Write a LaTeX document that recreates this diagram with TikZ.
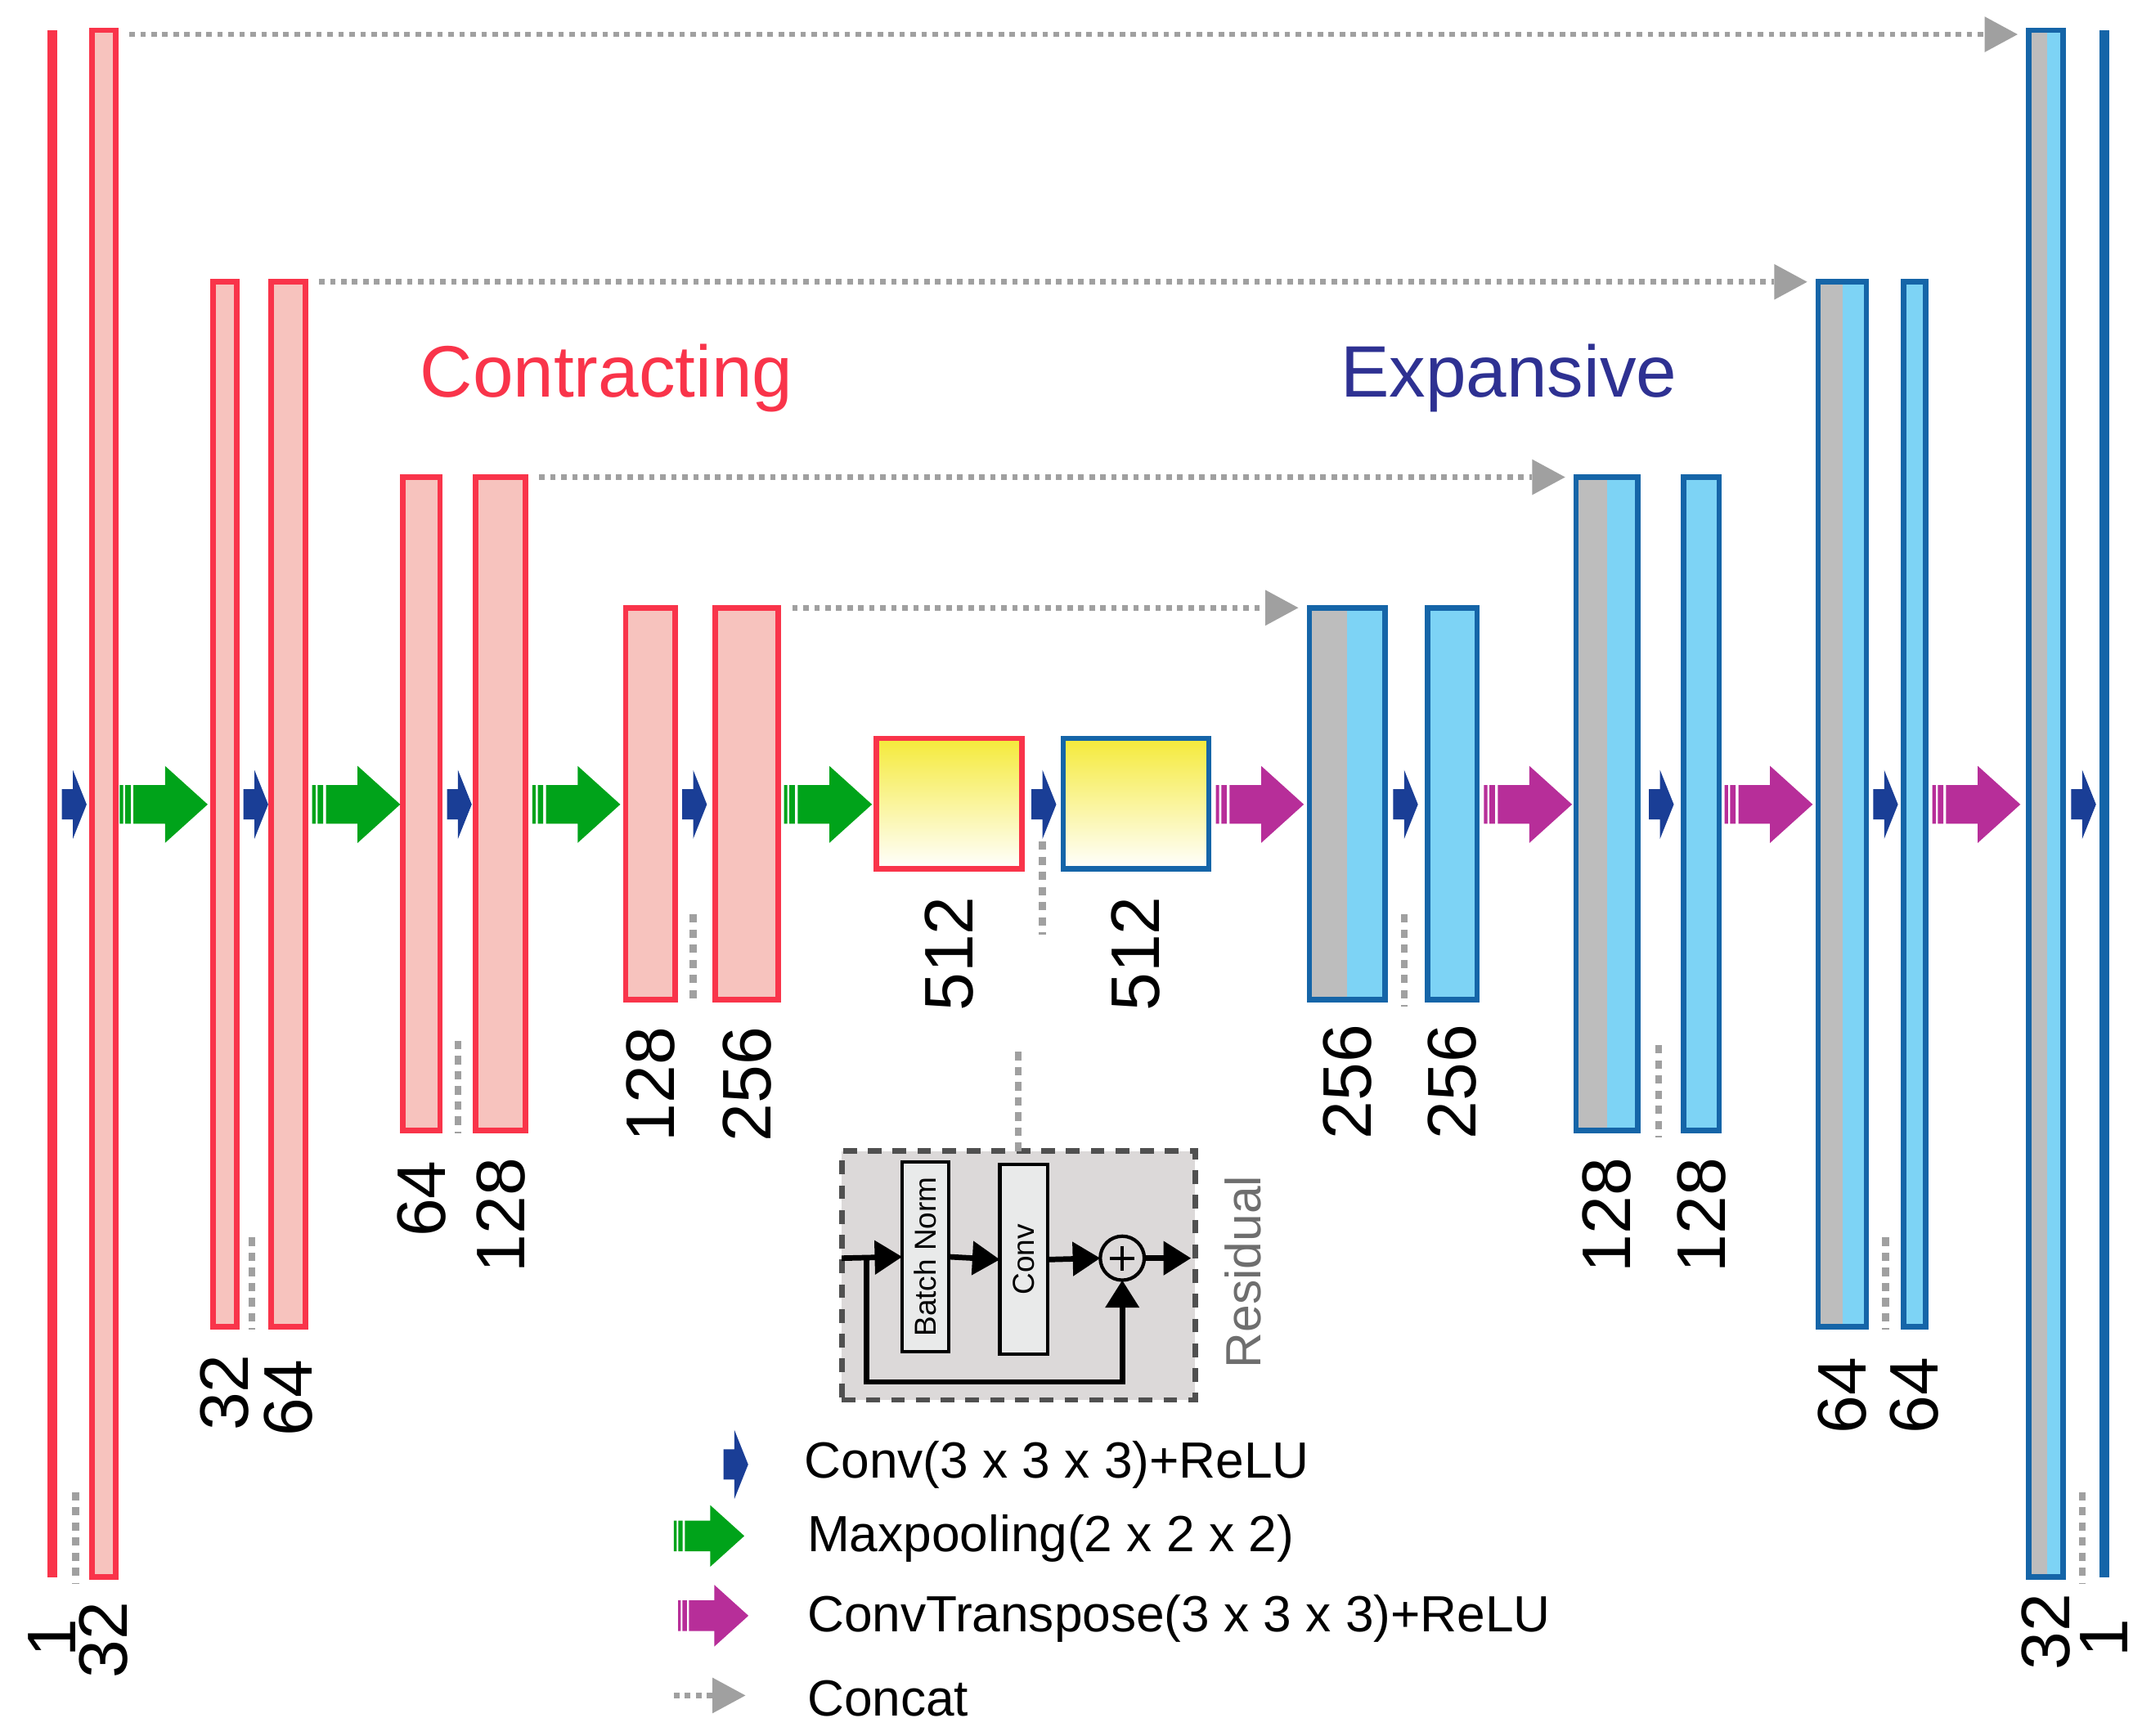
\documentclass[tikz,border=0pt]{standalone}
\usepackage{fontspec}
\setmainfont{Liberation Sans}
\usetikzlibrary{calc,arrows.meta}
\definecolor{redc}{HTML}{F9344A}
\definecolor{pinkc}{HTML}{F7C3BE}
\definecolor{bluec}{HTML}{1565A8}
\definecolor{lbluec}{HTML}{7DD3F5}
\definecolor{grayc}{HTML}{BDBDBD}
\definecolor{convc}{HTML}{1A3E96}
\definecolor{poolc}{HTML}{00A31A}
\definecolor{upc}{HTML}{B72E99}
\definecolor{catc}{HTML}{A0A0A0}
\definecolor{yelc}{HTML}{F5EA3A}
\definecolor{resbg}{HTML}{DCD9D9}
\definecolor{expc}{HTML}{2E3192}
\newcommand\convarr[1]{\fill[convc,shift={(#1)}] (0,-11) -- (8,-11) -- (8,-25) -- (18,0) -- (8,25) -- (8,11) -- (0,11) -- cycle;}
\newcommand\fatarr[3][1]{\fill[#2,shift={(#3)},scale=#1] (0,-14) rectangle (2.5,14) (4,-14) rectangle (8,14)
  (10,-14) -- (33,-14) -- (33,-28) -- (64,0) -- (33,28) -- (33,14) -- (10,14) -- cycle;}
\begin{document}
\begin{tikzpicture}[x=1pt,y=-1pt,
  every node/.style={inner sep=0pt,outer sep=0pt},
  barR/.style={draw=redc,fill=pinkc,line width=4pt,rectangle},
  barB/.style={draw=bluec,fill=lbluec,line width=4pt,rectangle},
  thinR/.style={fill=redc,rectangle},
  thinB/.style={fill=bluec,rectangle},
  gpart/.style={path picture={\fill[grayc] (path picture bounding box.south west) rectangle ($(path picture bounding box.north west)!#1!(path picture bounding box.north east)$);}},
  lab/.style={font=\fontsize{50}{50}\selectfont,rotate=90,anchor=east},
  vdot/.style={draw=catc,line width=5pt,dash pattern=on 6pt off 5pt},
  cat/.style={draw=catc,line width=4pt,dash pattern=on 4pt off 4pt,-{Triangle[length=24pt,width=26pt,fill=catc,line width=0pt]}},
  leg/.style={font=\fontsize{37}{37}\selectfont,anchor=west},
  blk/.style={line width=4pt,-{Triangle[length=20pt,width=24pt]}},
  ]
\useasboundingbox (0,0) rectangle (1564,1262);
% contracting bars
\node[thinR,minimum width=7,minimum height=1125] (l1a) at (38,584.5) {};
\node[barR,minimum width=17,minimum height=1125] (l1b) at (75.5,584.5) {};
\node[barR,minimum width=17,minimum height=760] (l2a) at (163.5,585) {};
\node[barR,minimum width=25,minimum height=760] (l2b) at (209.5,585) {};
\node[barR,minimum width=27,minimum height=475] (l3a) at (306.5,584.5) {};
\node[barR,minimum width=36,minimum height=475] (l3b) at (364,584.5) {};
\node[barR,minimum width=36,minimum height=285] (l4a) at (473,584.5) {};
\node[barR,minimum width=46,minimum height=285] (l4b) at (543,584.5) {};
\node[draw=redc,line width=4pt,top color=yelc,bottom color=white,minimum width=106,minimum height=95] (b1) at (690,584.5) {};
\node[draw=bluec,line width=4pt,top color=yelc,bottom color=white,minimum width=106,minimum height=95] (b2) at (826,584.5) {};
% expansive bars
\node[barB,gpart=0.5,minimum width=55,minimum height=285] (e4a) at (979.5,584.5) {};
\node[barB,minimum width=36,minimum height=285] (e4b) at (1056,584.5) {};
\node[barB,gpart=0.5,minimum width=45,minimum height=475] (e3a) at (1168.5,584.5) {};
\node[barB,minimum width=26,minimum height=475] (e3b) at (1237,584.5) {};
\node[barB,gpart=0.5,minimum width=35,minimum height=760] (e2a) at (1339.5,585) {};
\node[barB,minimum width=16,minimum height=760] (e2b) at (1392,585) {};
\node[barB,gpart=0.55,minimum width=25,minimum height=1125] (e1a) at (1487.5,584.5) {};
\node[thinB,minimum width=7,minimum height=1125] (e1b) at (1530,584.5) {};
% concat arrows
\draw[cat] ([xshift=10pt,yshift=-3pt]l1b.north east) -- ([xshift=-8pt,yshift=-3pt]e1a.north west);
\draw[cat] ([xshift=10pt]l2b.north east) -- ([xshift=-8pt]e2a.north west);
\draw[cat] ([xshift=10pt]l3b.north east) -- ([xshift=-8pt]e3a.north west);
\draw[cat] ([xshift=10pt]l4b.north east) -- ([xshift=-8pt]e4a.north west);
% short vertical dotted
\draw[vdot] (55,1085) -- (55,1152);
\draw[vdot] (183,900) -- (183,967);
\draw[vdot] (333,757) -- (333,824);
\draw[vdot] (504,665) -- (504,730);
\draw[vdot] (758,612) -- (758,680);
\draw[vdot] (1021,665) -- (1021,732);
\draw[vdot] (1206,760) -- (1206,827);
\draw[vdot] (1371,900) -- (1371,967);
\draw[vdot] (1514,1085) -- (1514,1152);
% operation arrows
\convarr{45,585}\convarr{177,585}\convarr{325,585}\convarr{496,585}\convarr{750,585}
\convarr{1013,585}\convarr{1199,585}\convarr{1362,585}\convarr{1506,585}
\fatarr{poolc}{87,585}\fatarr{poolc}{227,585}\fatarr{poolc}{387,585}\fatarr{poolc}{570,585}
\fatarr{upc}{884,585}\fatarr{upc}{1079,585}\fatarr{upc}{1254,585}\fatarr{upc}{1405,585}
% labels
\node[lab] at ([yshift=-30pt]l1a.south) {1};
\node[lab] at ([yshift=-18pt]l1b.south) {32};
\node[lab] at ([yshift=-20pt]l2a.south) {32};
\node[lab] at ([yshift=-24pt]l2b.south) {64};
\node[lab] at ([yshift=-22pt]l3a.south) {64};
\node[lab] at ([yshift=-20pt]l3b.south) {128};
\node[lab] at ([yshift=-20pt]l4a.south) {128};
\node[lab] at ([yshift=-20pt]l4b.south) {256};
\node[lab] at ([yshift=-20pt]b1.south) {512};
\node[lab] at ([yshift=-20pt]b2.south) {512};
\node[lab] at ([yshift=-18pt]e4a.south) {256};
\node[lab] at ([yshift=-18pt]e4b.south) {256};
\node[lab] at ([yshift=-20pt]e3a.south) {128};
\node[lab] at ([yshift=-20pt]e3b.south) {128};
\node[lab] at ([yshift=-22pt]e2a.south) {64};
\node[lab] at ([yshift=-22pt]e2b.south) {64};
\node[lab] at ([yshift=-12pt]e1a.south) {32};
\node[lab] at ([yshift=-30pt]e1b.south) {1};
\node[font=\fontsize{53}{53}\selectfont,text=redc] (tc) at (441,275) {Contracting};
\node[font=\fontsize{53}{53}\selectfont,text=expc] (te) at (1097,275) {Expansive};
% residual block
\node[draw={rgb,255:red,80;green,80;blue,80},fill=resbg,line width=4pt,dash pattern=on 10pt off 8pt,minimum width=257,minimum height=181] (res) at (740.5,927.5) {};
\draw[vdot] (res.north) -- ++(0,-72);
\node[draw,fill={rgb,255:red,233;green,234;blue,234},line width=2.5pt,minimum width=34,minimum height=138] (bn) at (673,914) {};
\node[rotate=90,font=\fontsize{22}{22}\selectfont] at (bn) {Batch Norm};
\node[draw,fill={rgb,255:red,233;green,234;blue,234},line width=2.5pt,minimum width=35,minimum height=138] (cv) at (744.5,916) {};
\node[rotate=90,font=\fontsize{22}{22}\selectfont] at (cv) {Conv};
\node[draw,circle,line width=2.5pt,minimum size=32] (pl) at (816,915) {};
\draw[line width=2.5pt] ([yshift=-7pt]pl.north) -- ([yshift=7pt]pl.south) ([xshift=7pt]pl.west) -- ([xshift=-7pt]pl.east);
\coordinate (rin) at (612,915);
\coordinate (rout) at (866,915);
\coordinate (rsplit) at (630,915);
\draw[blk] (rin) -- (bn.west);
\draw[blk] (bn.east) -- (cv.west);
\draw[blk] (cv.east) -- (pl.west);
\draw[blk] (pl.east) -- (rout);
\draw[blk] (rsplit) |- (816,1005) -- (pl.south);
\node[rotate=90,font=\fontsize{36}{36}\selectfont,text={rgb,255:red,110;green,110;blue,110}] (rl) at (904,925) {Residual};
% legend
\convarr{526,1065}
\node[leg] (g1) at (585,1065) {Conv(3 x 3 x 3)+ReLU};
\fatarr[0.8]{poolc}{490,1117}
\node[leg] (g2) at (587,1119) {Maxpooling(2 x 2 x 2)};
\fatarr[0.8]{upc}{493,1175}
\node[leg] (g3) at (587,1177) {ConvTranspose(3 x 3 x 3)+ReLU};
\coordinate (c1) at (490,1233);
\coordinate (c2) at (542,1233);
\draw[cat] (c1) -- (c2);
\node[leg] (g4) at (587,1235) {Concat};
\end{tikzpicture}
\end{document}
